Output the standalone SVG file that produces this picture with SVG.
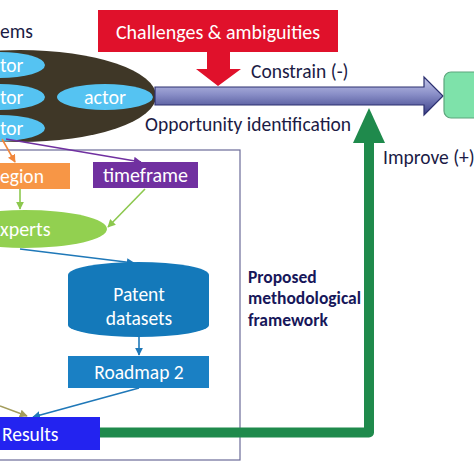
<svg xmlns="http://www.w3.org/2000/svg" width="474" height="474" viewBox="0 0 474 474">
<defs>
<style>
text{font-family:Carlito,"Liberation Sans","Open Sans",sans-serif;font-size:19.5px}
.w{fill:#fff}
.lbl{fill:#1b1b45}
.bold{font-weight:bold;fill:#17175a;font-size:17.5px}
.ln{fill:none;stroke-width:1.6}
</style>
<linearGradient id="bar" x1="0" y1="0" x2="0" y2="1">
<stop offset="0" stop-color="#c5c8ea"/>
<stop offset="0.45" stop-color="#8a8fc8"/>
<stop offset="1" stop-color="#3a3f86"/>
</linearGradient>
<marker id="mO" viewBox="0 0 10 10" refX="9" refY="5" markerWidth="5" markerHeight="5" orient="auto"><path d="M0,0L10,5L0,10Z" fill="#f0873c"/></marker>
<marker id="mP" viewBox="0 0 10 10" refX="9" refY="5" markerWidth="5" markerHeight="5" orient="auto"><path d="M0,0L10,5L0,10Z" fill="#7030a0"/></marker>
<marker id="mG" viewBox="0 0 10 10" refX="9" refY="5" markerWidth="5" markerHeight="5" orient="auto"><path d="M0,0L10,5L0,10Z" fill="#8cc84e"/></marker>
<marker id="mB" viewBox="0 0 10 10" refX="9" refY="5" markerWidth="5" markerHeight="5" orient="auto"><path d="M0,0L10,5L0,10Z" fill="#1f78b8"/></marker>
<marker id="mK" viewBox="0 0 10 10" refX="9" refY="5" markerWidth="5" markerHeight="5" orient="auto"><path d="M0,0L10,5L0,10Z" fill="#a39c5c"/></marker>
</defs>
<rect width="474" height="474" fill="#fff"/>

<!-- frame -->
<rect id="frame" x="-10" y="150" width="250" height="310" fill="none" stroke="#6b6b98" stroke-width="1.2"/>

<text x="0" y="38" class="lbl">ems</text>

<g id="ecosystem">
<ellipse cx="20" cy="96" rx="136" ry="46" fill="#3f3727"/>
</g>
<g id="actor1"><ellipse cx="0" cy="65" rx="45" ry="13" fill="#55c3f2"/><text x="0" y="72" class="w">tor</text></g>
<g id="actor2"><ellipse cx="0" cy="97" rx="45" ry="13" fill="#55c3f2"/><text x="0" y="104" class="w">tor</text></g>
<g id="actor3"><ellipse cx="0" cy="128" rx="45" ry="13" fill="#55c3f2"/><text x="0" y="135" class="w">tor</text></g>
<g id="actor4"><ellipse cx="105" cy="97" rx="48" ry="13" fill="#55c3f2"/><text x="105" y="104" text-anchor="middle" class="w" style="font-size:20px">actor</text></g>

<g id="opportunity">
<path d="M155,87H424V77L443,96L424,115V105H155Z" fill="url(#bar)" stroke="#2c3070" stroke-width="1.2"/>
</g>

<g id="challenges">
<rect x="98" y="10" width="240" height="42" fill="#e0112b"/>
<text x="218" y="39" text-anchor="middle" class="w" style="font-size:20px">Challenges &amp; ambiguities</text>
<path d="M207,52H230V69H241L218,86L196,69H207Z" fill="#e0112b"/>
</g>

<text x="251" y="78" class="lbl">Constrain (-)</text>
<text x="145" y="131" class="lbl">Opportunity identification</text>
<text x="383" y="164" class="lbl">Improve (+)</text>

<g id="goal"><rect x="444" y="72" width="40" height="46" rx="7" fill="#7ee2aa" stroke="#5da67d" stroke-width="1.2"/></g>

<g id="connectors">
<line class="ln" x1="2" y1="139" x2="15" y2="162" stroke="#f0873c" marker-end="url(#mO)"/>
<line class="ln" x1="6" y1="139" x2="141" y2="162" stroke="#7030a0" marker-end="url(#mP)"/>
<line class="ln" x1="20" y1="189" x2="20" y2="209" stroke="#8cc84e" marker-end="url(#mG)"/>
<line class="ln" x1="145" y1="189" x2="108" y2="227" stroke="#8cc84e" marker-end="url(#mG)"/>
<line class="ln" x1="20" y1="249" x2="134" y2="263" stroke="#1f78b8" marker-end="url(#mB)"/>
<line class="ln" x1="139" y1="337" x2="139" y2="355" stroke="#1f78b8" marker-end="url(#mB)"/>
<line class="ln" x1="139" y1="388" x2="33" y2="417" stroke="#1f78b8" marker-end="url(#mB)"/>
<line class="ln" x1="0" y1="406" x2="27" y2="416" stroke="#a39c5c" marker-end="url(#mK)"/>
<path d="M100,432.5H369V142" fill="none" stroke="#1f8a4c" stroke-width="10" stroke-linejoin="round"/>
<path d="M353,143L369,108L385,143Z" fill="#1f8a4c"/>
</g>

<g id="region"><rect x="-5" y="163" width="75" height="26" fill="#f79646"/><text x="0" y="183" class="w">egion</text></g>
<g id="timeframe"><rect x="93" y="162" width="105" height="26" fill="#7030a0"/><text x="145.5" y="182" text-anchor="middle" class="w" style="font-size:20px">timeframe</text></g>
<g id="experts"><ellipse cx="25" cy="229" rx="82" ry="19" fill="#92d050"/><text x="0" y="236" class="w" style="font-size:20px">xperts</text></g>
<g id="patents"><path d="M68,275A70.5,13 0 0 1 209,275V325A70.5,12 0 0 1 68,325Z" fill="#1479ba"/>
<text x="139" y="301" text-anchor="middle" class="w">Patent</text>
<text x="139" y="325" text-anchor="middle" class="w">datasets</text></g>
<g id="roadmap2"><rect x="68" y="356" width="141" height="32" fill="#1a80c4"/><text x="139" y="379" text-anchor="middle" class="w">Roadmap 2</text></g>
<g id="results"><rect x="-5" y="417" width="105" height="33" fill="#2323f0"/><text x="2" y="441" class="w">Results</text></g>

<text x="248" y="283" class="bold">Proposed</text>
<text x="248" y="304" class="bold">methodological</text>
<text x="248" y="326" class="bold">framework</text>
</svg>
